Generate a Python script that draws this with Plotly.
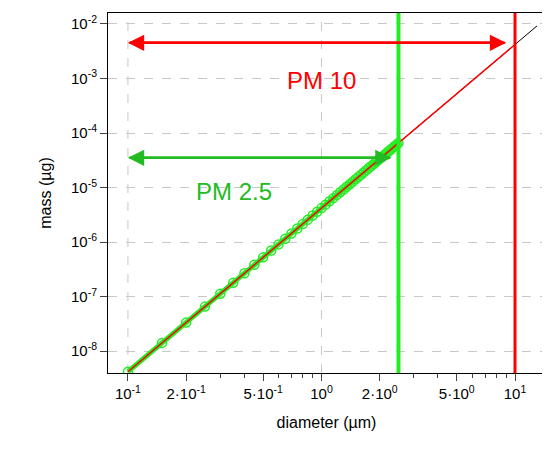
import math
import plotly.graph_objects as go

# particle diameters (um) and masses (1e-6 ug) of the green circles
diam = [0.1, 0.15, 0.2, 0.25, 0.3, 0.35, 0.4, 0.45, 0.5, 0.55, 0.6, 0.65, 0.7, 0.75, 0.8,
        0.85, 0.9, 0.95, 1.0, 1.05, 1.1, 1.15, 1.2, 1.25, 1.3, 1.35, 1.4, 1.45, 1.5, 1.55,
        1.6, 1.65, 1.7, 1.75, 1.8, 1.85, 1.9, 1.95, 2.0, 2.05, 2.1, 2.15, 2.2, 2.25, 2.3,
        2.35, 2.4, 2.45, 2.5]
mass_e6 = [0.0042, 0.0142, 0.0336, 0.0656, 0.113, 0.180, 0.269, 0.383, 0.525, 0.699, 0.907,
           1.153, 1.441, 1.772, 2.150, 2.579, 3.062, 3.601, 4.2, 4.862, 5.590, 6.388, 7.258,
           8.203, 9.227, 10.33, 11.52, 12.81, 14.18, 15.64, 17.20, 18.87, 20.63, 22.51, 24.49,
           26.59, 28.81, 31.14, 33.6, 36.18, 38.9, 41.74, 44.72, 47.84, 51.1, 54.52, 58.06,
           61.78, 65.63]
mass = [m * 1e-6 for m in mass_e6]

black_x = [0.1, 13]
black_y = [4.2e-9, 9.2e-3]
red_x = [0.1, 10]
red_y = [4.2e-9, 4.2e-3]
pm10_arrow_y = 4.5e-3
pm25_arrow_y = 3.5e-5

GREEN = "#22ee22"
DGREEN = "#22bb22"
RED = "#ff0000"

fig = go.Figure()
fig.add_trace(go.Scatter(x=black_x, y=black_y, mode="lines", line=dict(color="black", width=1)))
fig.add_trace(go.Scatter(x=diam, y=mass, mode="lines", line=dict(color=GREEN, width=5)))
fig.add_trace(go.Scatter(x=diam, y=mass, mode="markers",
                         marker=dict(symbol="circle-open", size=9, color=GREEN, line=dict(width=1.5))))
fig.add_trace(go.Scatter(x=red_x, y=red_y, mode="lines", line=dict(color=RED, width=1.5)))

fig.add_vline(x=2.5, line=dict(color=GREEN, width=4))
fig.add_vline(x=10, line=dict(color=RED, width=3))

L = math.log10
for x0, x1, y, c in [(0.1, 9.0, pm10_arrow_y, RED), (0.1, 2.3, pm25_arrow_y, DGREEN)]:
    for a, b in [(x0, x1), (x1, x0)]:
        fig.add_annotation(x=L(b), y=L(y), ax=L(a), ay=L(y),
                           xref="x", yref="y", axref="x", ayref="y", showarrow=True,
                           arrowhead=2, arrowsize=1.3, arrowwidth=2.5, arrowcolor=c, text="")

fig.add_annotation(x=0, y=-3.03, xref="x", yref="y", text="PM 10", showarrow=False,
                   font=dict(size=24, color=RED))
fig.add_annotation(x=-0.45, y=-5.07, xref="x", yref="y", text="PM 2.5", showarrow=False,
                   font=dict(size=24, color=DGREEN))

xt = [0.1, 0.2, 0.5, 1, 2, 5, 10]
xl = ["10<sup>-1</sup>", "2·10<sup>-1</sup>", "5·10<sup>-1</sup>", "10<sup>0</sup>",
      "2·10<sup>0</sup>", "5·10<sup>0</sup>", "10<sup>1</sup>"]
x_minor = [0.3, 0.4, 0.6, 0.7, 0.8, 0.9, 3, 4, 6, 7, 8, 9]
yt = [1e-8, 1e-7, 1e-6, 1e-5, 1e-4, 1e-3, 1e-2]
yl = ["10<sup>%d</sup>" % e for e in range(-8, -1)]

fig.update_layout(
    width=550, height=473, showlegend=False,
    plot_bgcolor="white", paper_bgcolor="white",
    margin=dict(l=100, r=13, t=5, b=108),
    font=dict(family="Liberation Sans, Arial", size=15, color="black"),
    xaxis=dict(type="log", range=[-1.103, 1.155], tickvals=xt, ticktext=xl,
               ticks="outside", ticklen=7, showline=True, mirror=True, linecolor="black",
               showgrid=False, zeroline=False,
               minor=dict(tickvals=x_minor, ticks="outside", ticklen=4, showgrid=False),
               title=dict(text="diameter (µm)", font=dict(size=16))),
    yaxis=dict(type="log", range=[-8.40, -1.80], tickvals=yt, ticktext=yl,
               ticks="outside", ticklen=7, showline=True, mirror=True, linecolor="black",
               gridcolor="#c8c8c8", griddash="dash", zeroline=False,
               title=dict(text="mass (µg)", font=dict(size=16))),
)
for gx in [0.1, 1, 10]:
    fig.add_vline(x=gx, line=dict(color="#c8c8c8", width=1, dash="dash"), layer="below")

fig.write_html("out.html")
